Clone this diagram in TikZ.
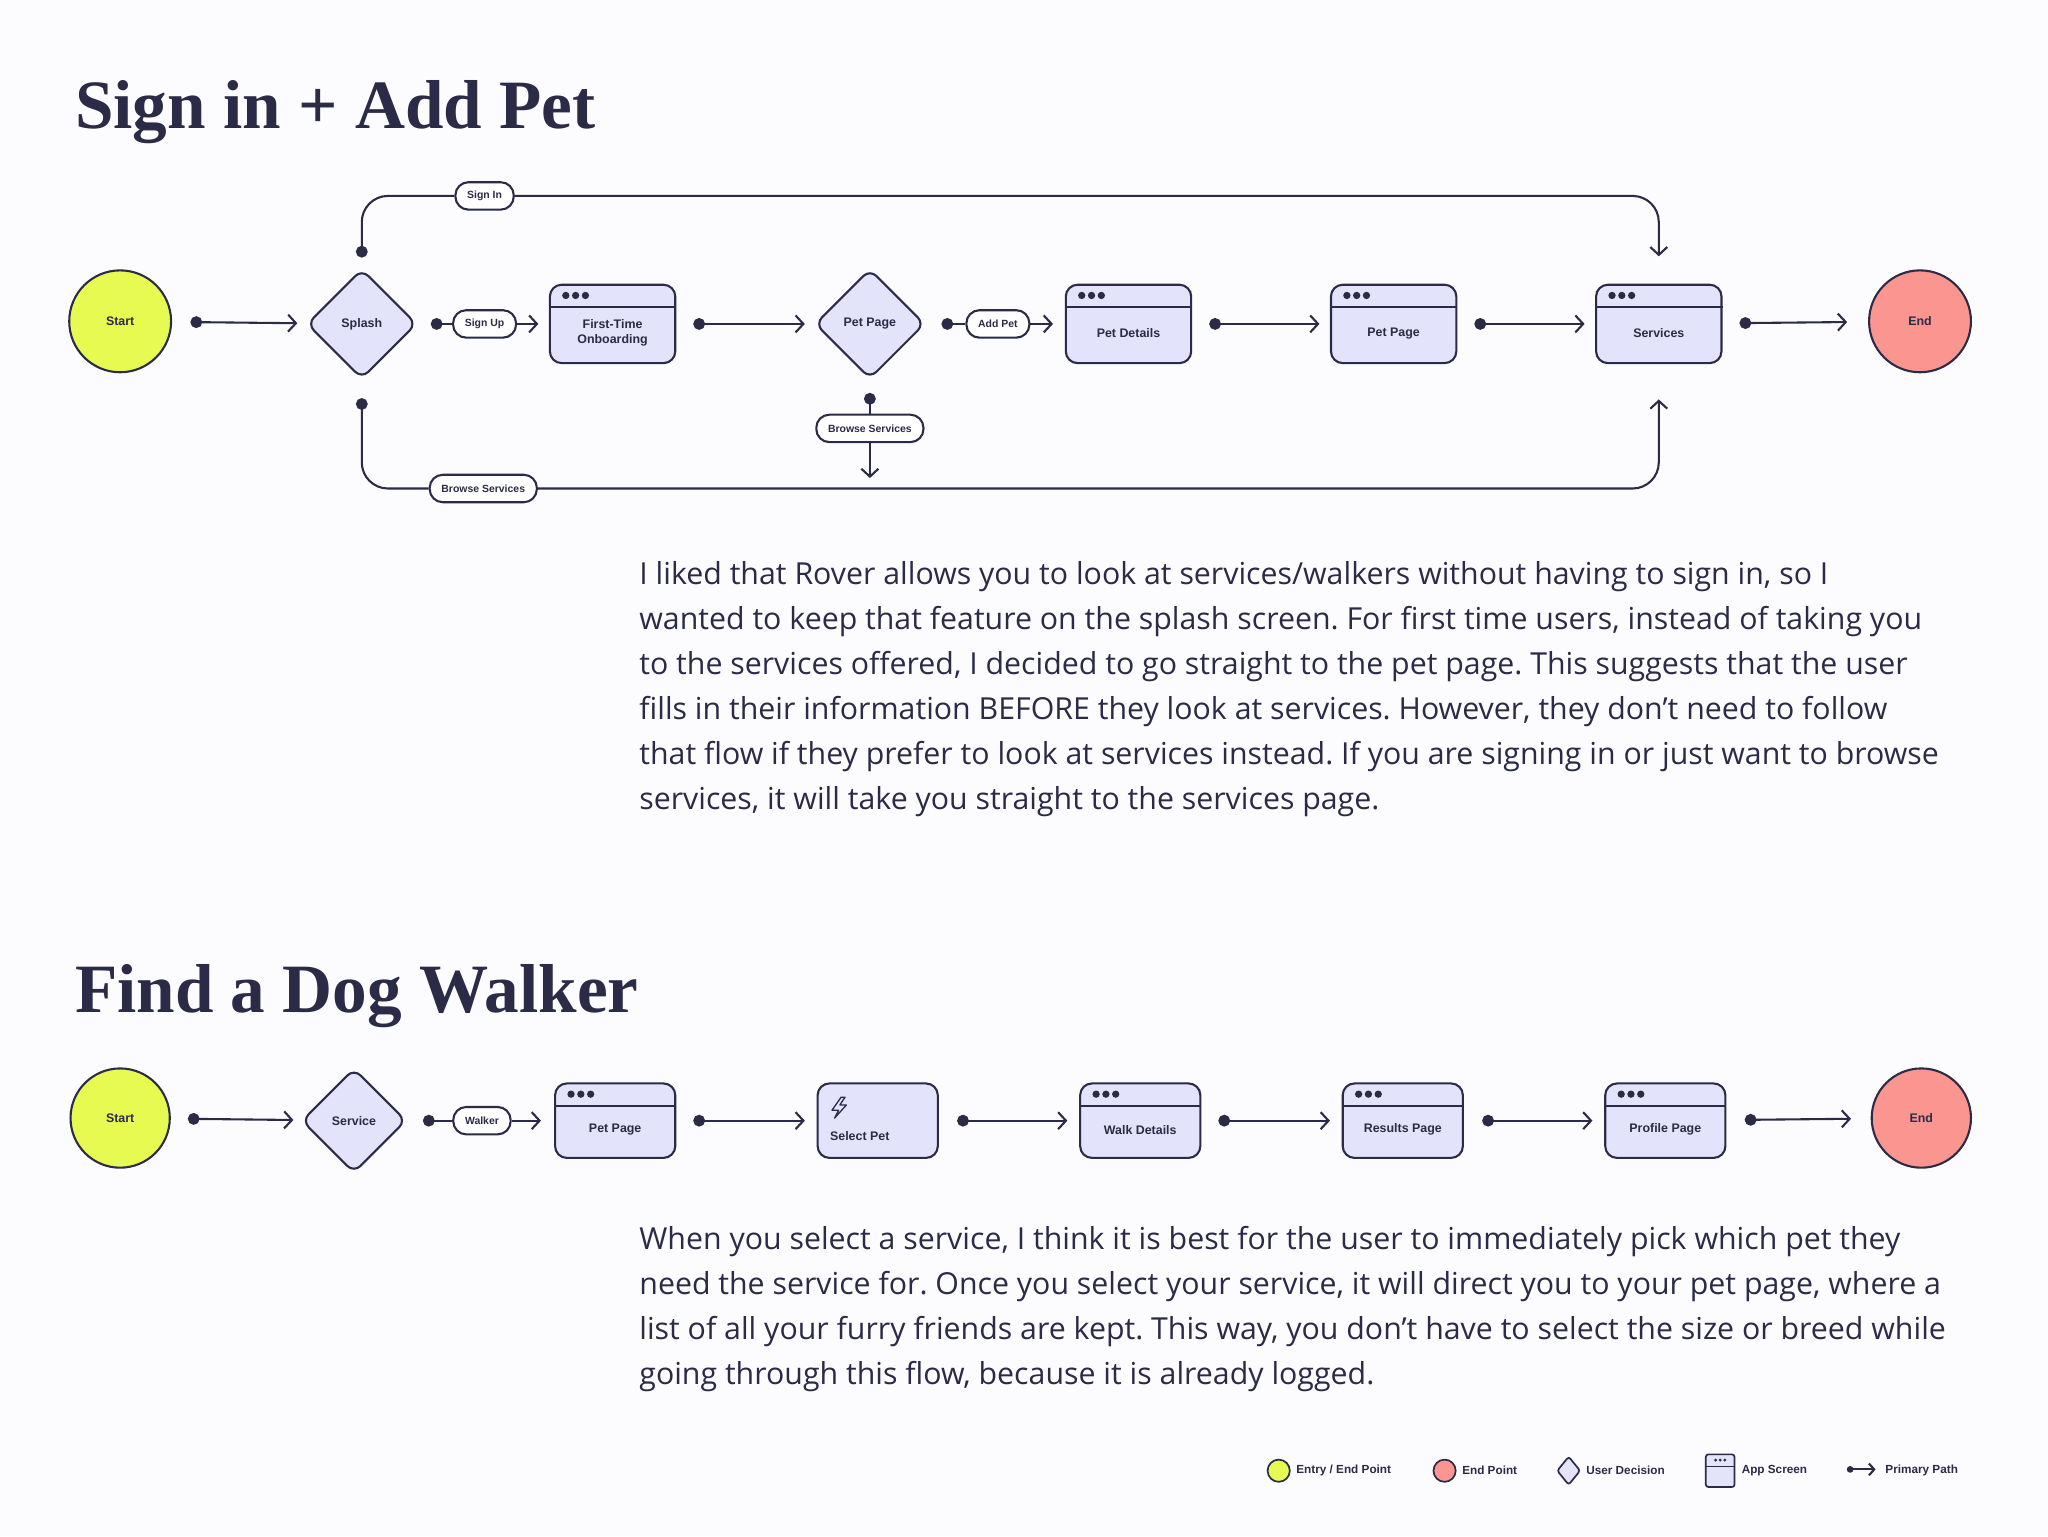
\documentclass[tikz,border=0pt]{standalone}
\usepackage{fontspec}
\setmainfont{Liberation Sans}
\newfontfamily\titlefont{Liberation Serif}
\newfontfamily\bodyfont{Open Sans}
\usetikzlibrary{arrows.meta,shapes.geometric,positioning,calc}
\definecolor{ink}{HTML}{2B2B47}
\definecolor{lav}{HTML}{E3E3FC}
\definecolor{lime}{HTML}{E6FA52}
\definecolor{salmon}{HTML}{FA9590}
\definecolor{paper}{HTML}{FCFCFE}
\tikzset{
  term/.style={circle,draw=ink,line width=1.6pt,minimum size=78pt,inner sep=0pt,font=\fontsize{9.5}{11}\selectfont\bfseries,text=ink},
  decision/.style={diamond,draw=ink,fill=lav,line width=1.6pt,rounded corners=7pt,minimum width=84pt,minimum height=84pt,inner sep=0pt,font=\fontsize{9.5}{11}\selectfont\bfseries,text=ink},
  screen/.style={rectangle,rounded corners=9pt,draw=ink,fill=lav,line width=1.6pt,minimum width=96pt,minimum height=60pt},
  scrtext/.style={align=center,font=\fontsize{9.5}{11.5}\selectfont\bfseries,text=ink},
  pill/.style={rectangle,rounded corners=10pt,draw=ink,fill=white,line width=1.6pt,minimum height=21pt,inner xsep=9pt,font=\fontsize{8}{9}\selectfont\bfseries,text=ink},
  link/.style={draw=ink,line width=1.6pt},
  flow/.style={link,{Circle[length=9pt]}-{Straight Barb[length=6pt,width=13pt]}},
  dotonly/.style={link,{Circle[length=9pt]}-},
  tiponly/.style={link,-{Straight Barb[length=6pt,width=13pt]}},
  body/.style={anchor=north west,align=left,text=ink,font=\bodyfont\frenchspacing\fontsize{23.2}{34.5}\selectfont},
  heading/.style={anchor=base west,text=ink,font=\titlefont\fontsize{53}{60}\selectfont\bfseries},
  legtext/.style={anchor=west,text=ink,font=\fontsize{9}{10}\selectfont\bfseries},
}
% screen with title bar
\newcommand\appscreen[5]{%
  \node[screen,minimum width=#3,minimum height=#4] (#1) at (#2) {};
  \draw[ink,line width=1.6pt] ([yshift=-18pt]#1.north west) -- ([yshift=-18pt]#1.north east);
  \foreach \k in {0,1,2}
    \fill[ink] ($(#1.north west)+(13+7.5*\k,9)$) circle [radius=2.8pt];
  \node[scrtext] at ([yshift=-7pt]#1.center) {#5};}
\begin{document}
\begin{tikzpicture}[x=1pt,y=-1pt]
\fill[paper] (0,0) rectangle (1568,1176);
\useasboundingbox (0,0) rectangle (1568,1176);
%% Sign in + Add Pet
\node[heading] (titleA) at (54,98) {Sign in + Add Pet};
\node[term,fill=lime] (startA) at (92,246) {Start};
\node[decision] (splash) at (277,248) {Splash};
\node[pill] (signup) at (371,248) {Sign Up};
\appscreen{onboard}{469,248}{96pt}{60pt}{First-Time\\Onboarding}
\node[decision] (petdec) at (666,248) {Pet Page};
\node[pill] (addpet) at (764,248) {Add Pet};
\appscreen{petdet}{864,248}{96pt}{60pt}{Pet Details}
\appscreen{petpage}{1067,248}{96pt}{60pt}{Pet Page}
\appscreen{services}{1270,248}{96pt}{60pt}{Services}
\node[term,fill=salmon] (endA) at (1470,246) {End};
\node[pill] (signin) at (371,150) {Sign In};
\node[pill] (browseA) at (370,374) {Browse Services};
\node[pill] (browseB) at (666,328) {Browse Services};
\coordinate (browseEnd) at (666,366);
%% main path
\draw[flow,shorten <=14pt,shorten >=7pt] (startA) -- (splash);
\draw[dotonly,shorten <=10pt] (splash) -- (signup);
\draw[tiponly,shorten >=8pt] (signup) -- (onboard);
\draw[flow,shorten <=13pt,shorten >=7pt] (onboard) -- (petdec);
\draw[dotonly,shorten <=12pt] (petdec) -- (addpet);
\draw[tiponly,shorten >=9pt] (addpet) -- (petdet);
\draw[flow,shorten <=13pt,shorten >=8pt] (petdet) -- (petpage);
\draw[flow,shorten <=13pt,shorten >=8pt] (petpage) -- (services);
\draw[flow,shorten <=13pt,shorten >=16pt] (services) -- (endA);
%% side paths
\draw[dotonly,rounded corners=20pt] ([yshift=8pt]splash.north) |- (signin.west);
\draw[tiponly,rounded corners=20pt] (signin.east) -| ([yshift=21pt]services.north);
\draw[dotonly,rounded corners=20pt] ([yshift=-14pt]splash.south) |- (browseA.west);
\draw[tiponly,rounded corners=20pt] (browseA.east) -| ([yshift=-27pt]services.south);
\draw[dotonly] ([yshift=-10pt]petdec.south) -- (browseB.north);
\draw[tiponly] (browseB.south) -- (browseEnd);
\node[body] (noteA) at (486,426) {I liked that Rover allows you to look at services/walkers without having to sign in, so I\\
wanted to keep that feature on the splash screen. For first time users, instead of taking you\\
to the services offered, I decided to go straight to the pet page. This suggests that the user\\
fills in their information BEFORE they look at services. However, they don’t need to follow\\
that flow if they prefer to look at services instead. If you are signing in or just want to browse\\
services, it will take you straight to the services page.};
%% Find a Dog Walker
\node[heading] (titleB) at (54,775) {Find a Dog Walker};
\node[term,fill=lime,minimum size=76pt] (startB) at (92,856) {Start};
\node[decision,minimum width=80pt,minimum height=80pt] (service) at (271,858) {Service};
\node[pill] (walker) at (369,858) {Walker};
\appscreen{petB}{471,858}{92pt}{57pt}{Pet Page}
\node[screen,minimum width=92pt,minimum height=57pt] (selpet) at (672,858) {};
\node[scrtext,anchor=west] at (632,870) {Select Pet};
\draw[ink,line width=1pt,line join=round] (644,840) -- (637,850) -- (642,850) -- (639,856) -- (648,846) -- (643,846) -- (647,840) -- cycle;
\appscreen{walkdet}{873,858}{92pt}{57pt}{Walk Details}
\appscreen{results}{1074,858}{92pt}{57pt}{Results Page}
\appscreen{profile}{1275,858}{92pt}{57pt}{Profile Page}
\node[term,fill=salmon,minimum size=76pt] (endB) at (1471,856) {End};
\draw[flow,shorten <=13pt,shorten >=6pt] (startB) -- (service);
\draw[dotonly,shorten <=12pt] (service) -- (walker);
\draw[tiponly,shorten >=10pt] (walker) -- (petB);
\draw[flow,shorten <=13pt,shorten >=9pt] (petB) -- (selpet);
\draw[flow,shorten <=14pt,shorten >=9pt] (selpet) -- (walkdet);
\draw[flow,shorten <=13pt,shorten >=9pt] (walkdet) -- (results);
\draw[flow,shorten <=14pt,shorten >=9pt] (results) -- (profile);
\draw[flow,shorten <=14pt,shorten >=15pt] (profile) -- (endB);
\node[body] (noteB) at (486,935) {When you select a service, I think it is best for the user to immediately pick which pet they\\
need the service for. Once you select your service, it will direct you to your pet page, where a\\
list of all your furry friends are kept. This way, you don’t have to select the size or breed while\\
going through this flow, because it is already logged.};
%% legend
\node[circle,draw=ink,fill=lime,line width=1.3pt,minimum width=15pt,minimum height=17pt,inner sep=0pt] (legA) at (979,1126) {};
\node[legtext] at (989,1126) {Entry / End Point};
\node[circle,draw=ink,fill=salmon,line width=1.3pt,minimum width=15pt,minimum height=17pt,inner sep=0pt] (legB) at (1106,1126) {};
\node[legtext] at (1116,1126) {End Point};
\node[diamond,draw=ink,fill=lav,line width=1.3pt,rounded corners=2pt,minimum width=18pt,minimum height=22pt,inner sep=0pt] (legC) at (1201,1126) {};
\node[legtext] at (1211,1126) {User Decision};
\node[rectangle,draw=ink,fill=lav,line width=1.3pt,rounded corners=2pt,minimum width=22pt,minimum height=25pt,inner sep=0pt] (legD) at (1317,1126) {};
\draw[ink,line width=1.3pt] ([yshift=-10pt]legD.north west) -- ([yshift=-10pt]legD.north east);
\foreach \k in {-1,0,1} \fill[ink] ($(legD.north)+(3.5*\k,5)$) circle [radius=1.2pt];
\node[legtext] at (1330,1126) {App Screen};
\coordinate (legE) at (1414,1125);
\coordinate (legF) at (1436,1125);
\draw[link,{Circle[length=5pt]}-{Straight Barb[length=4pt,width=9pt]}] (legE) -- (legF);
\node[legtext] at (1440,1126) {Primary Path};
\end{tikzpicture}
\end{document}
